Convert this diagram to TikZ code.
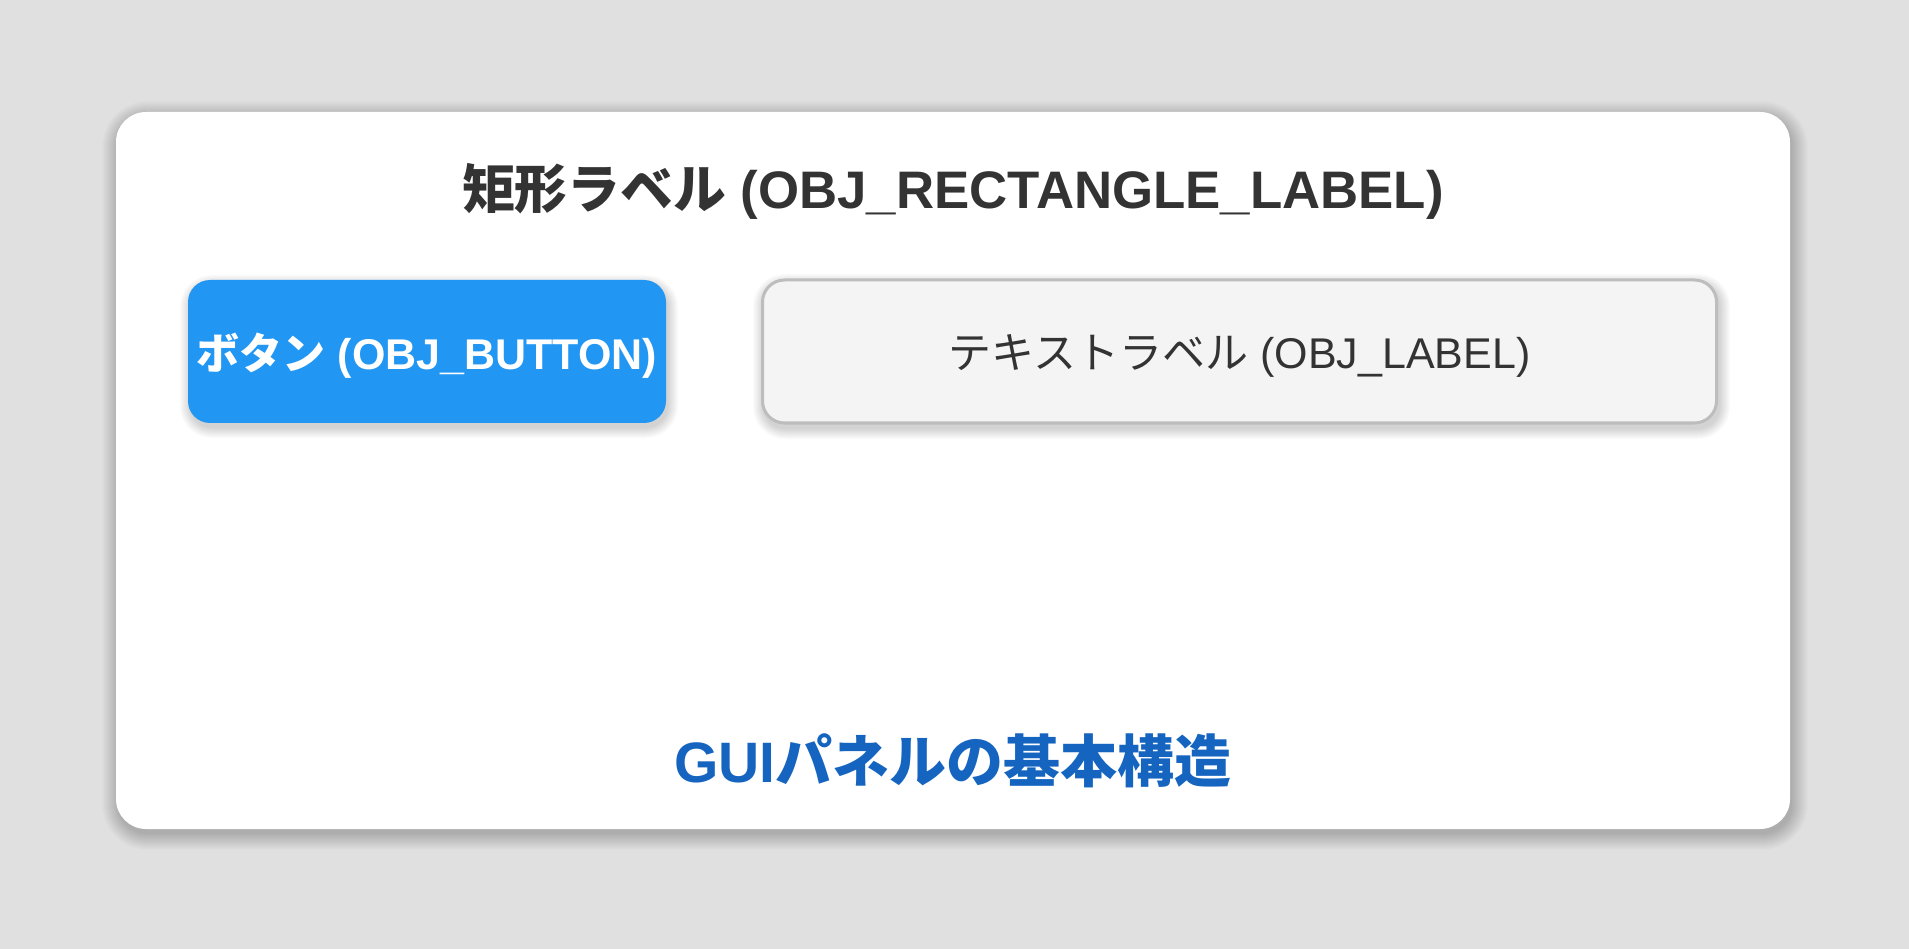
\documentclass[tikz,border=0pt]{standalone}
\usepackage{fontspec}
\setmainfont{Liberation Sans}
\newfontfamily\cjk{Noto Sans CJK JP}
\definecolor{bgc}{HTML}{E0E0E0}
\definecolor{txt}{HTML}{333333}
\definecolor{btnblue}{HTML}{2196F3}
\definecolor{lblfill}{HTML}{F4F4F4}
\definecolor{lblborder}{HTML}{BDBDBD}
\definecolor{capblue}{HTML}{1565C0}
\newcommand\mysoftshadow[7]{% x1 y1 x2 y2 radius steps opacity
  \foreach \i in {0,...,#6}{
    \pgfmathsetmacro\rr{#5+\i}
    \fill[black, opacity=#7, rounded corners=\rr pt]
      ({#1-\i+2},{#2-\i+5}) rectangle ({#3+\i+2},{#4+\i+5});
  }}
\tikzset{
  panelbox/.style={fill=white, rounded corners=30pt, inner sep=0pt,
    minimum width=1674pt, minimum height=717pt},
  buttonbox/.style={fill=btnblue, rounded corners=22pt, inner sep=0pt,
    minimum width=478pt, minimum height=143pt},
  labelbox/.style={fill=lblfill, draw=lblborder, line width=3pt, rounded corners=22pt, inner sep=0pt,
    minimum width=954pt, minimum height=143pt},
  buttontext/.style={text=white, font=\fontsize{43}{50}\selectfont\bfseries, inner sep=0pt},
  labeltext/.style={text=txt, font=\fontsize{43}{50}\selectfont, inner sep=0pt},
  titletext/.style={text=txt, font=\fontsize{52.8}{60}\selectfont\bfseries, inner sep=0pt},
  captiontext/.style={text=capblue, font=\fontsize{57}{64}\selectfont\bfseries, inner sep=0pt}
}
\begin{document}
\begin{tikzpicture}[x=1pt,y=-1pt]
\fill[bgc] (0,0) rectangle (1909,949);
\useasboundingbox (0,0) rectangle (1909,949);
\mysoftshadow{116}{112}{1790}{829}{30}{16}{0.011}
\node[panelbox] (panel) at (953,470.5) {};
\node[titletext] (title) at (953,191) {{\cjk 矩形ラベル} (OBJ\_RECTANGLE\_LABEL)};
\mysoftshadow{188}{280}{666}{423}{22}{10}{0.016}
\node[buttonbox] (button) at (427,351.5) {};
\node[buttontext] (buttonlabel) at (427,356) {{\cjk ボタン} (OBJ\_BUTTON)};
\mysoftshadow{761}{279}{1718}{424}{22}{10}{0.016}
\node[labelbox] (label) at (1239.5,351.5) {};
\node[labeltext] (labeltxt) at (1239.5,356) {{\cjk テキストラベル} (OBJ\_LABEL)};
\node[captiontext] (caption) at (953,761) {GUI{\cjk パネルの基本構造}};
\end{tikzpicture}
\end{document}
